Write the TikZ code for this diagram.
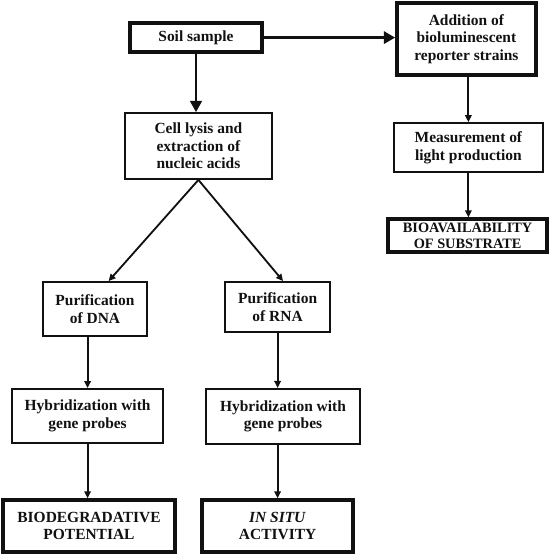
\documentclass[tikz,border=0pt]{standalone}
\usepackage{fontspec}
\setmainfont{Liberation Serif}
\usepackage{xcolor}
\usepackage{tikz}
\usetikzlibrary{arrows.meta, positioning, calc}
\definecolor{inkblack}{HTML}{111111}
\tikzset{
  arr/.style={-{Triangle[length=5pt, width=4.6pt]}, line width=1.3pt, inkblack},
  barr/.style={-{Triangle[length=8pt, width=8.5pt]}, line width=1.4pt, inkblack},
  labstep/.style={rectangle, draw=inkblack, line width=1.3pt, align=center, text=inkblack, inner sep=2pt},
  result/.style={rectangle, draw=inkblack, line width=2.4pt, align=center, text=inkblack, inner sep=2pt},
}

\begin{document}
\begin{tikzpicture}[font=\fontsize{11}{12.6}\selectfont\bfseries]
  \useasboundingbox (0,0) rectangle (14,-13.825);

  % Soil sample and reporter branch
  \node[result, minimum width=3.3cm, minimum height=0.725cm] (soil) at (4.9,-0.94) {Soil sample};
  \node[result, minimum width=3.475cm, minimum height=1.8cm] (addition) at (11.66,-0.975) {Addition of\\bioluminescent\\reporter strains};
  \node[labstep, minimum width=3.725cm, minimum height=1.225cm] (measure) at (11.71,-3.69) {Measurement of\\light production};
  \node[result, minimum width=3.975cm, minimum height=0.825cm, font=\fontsize{10.2}{11.6}\selectfont\bfseries] (bioavail) at (11.69,-5.89) {BIOAVAILABILITY\\OF SUBSTRATE};
  \draw[barr, line width=2.2pt] (soil.east) -- (addition.west |- soil.east);
  \draw[arr] (measure.north |- addition.south) -- (measure.north);
  \draw[arr] (measure.south) -- (bioavail.north -| measure.south);

  % Nucleic acid extraction
  \node[labstep, minimum width=3.675cm, minimum height=1.65cm] (lysis) at (4.96,-3.65) {Cell lysis and\\extraction of\\nucleic acids};
  \draw[barr] (soil.south) -- (lysis.north -| soil.south);

  % DNA and RNA columns
  \node[labstep, minimum width=2.6cm, minimum height=1.35cm] (dnapur) at (2.375,-7.725) {Purification\\of DNA};
  \node[labstep, minimum width=2.625cm, minimum height=1.25cm] (rnapur) at (6.94,-7.675) {Purification\\of RNA};
  \draw[arr] (lysis.south) -- (dnapur.64);
  \draw[arr] (lysis.south) -- (rnapur.78);

  \node[labstep, minimum width=3.775cm, minimum height=1.35cm] (dnahyb) at (2.19,-10.4) {Hybridization with\\gene probes};
  \node[labstep, minimum width=3.85cm, minimum height=1.375cm] (rnahyb) at (7.075,-10.41) {Hybridization with\\gene probes};
  \draw[arr] (dnahyb.north |- dnapur.south) -- (dnahyb.north);
  \draw[arr] (rnapur.south) -- (rnahyb.north -| rnapur.south);

  \node[result, minimum width=4.3cm, minimum height=1.3cm] (biodeg) at (2.225,-13.15) {BIODEGRADATIVE\\POTENTIAL};
  \node[result, minimum width=3.775cm, minimum height=1.3cm] (insitu) at (6.94,-13.15) {\textit{IN SITU}\\ACTIVITY};
  \draw[arr] (dnahyb.south) -- (biodeg.north -| dnahyb.south);
  \draw[arr] (insitu.north |- rnahyb.south) -- (insitu.north);
\end{tikzpicture}
\end{document}
